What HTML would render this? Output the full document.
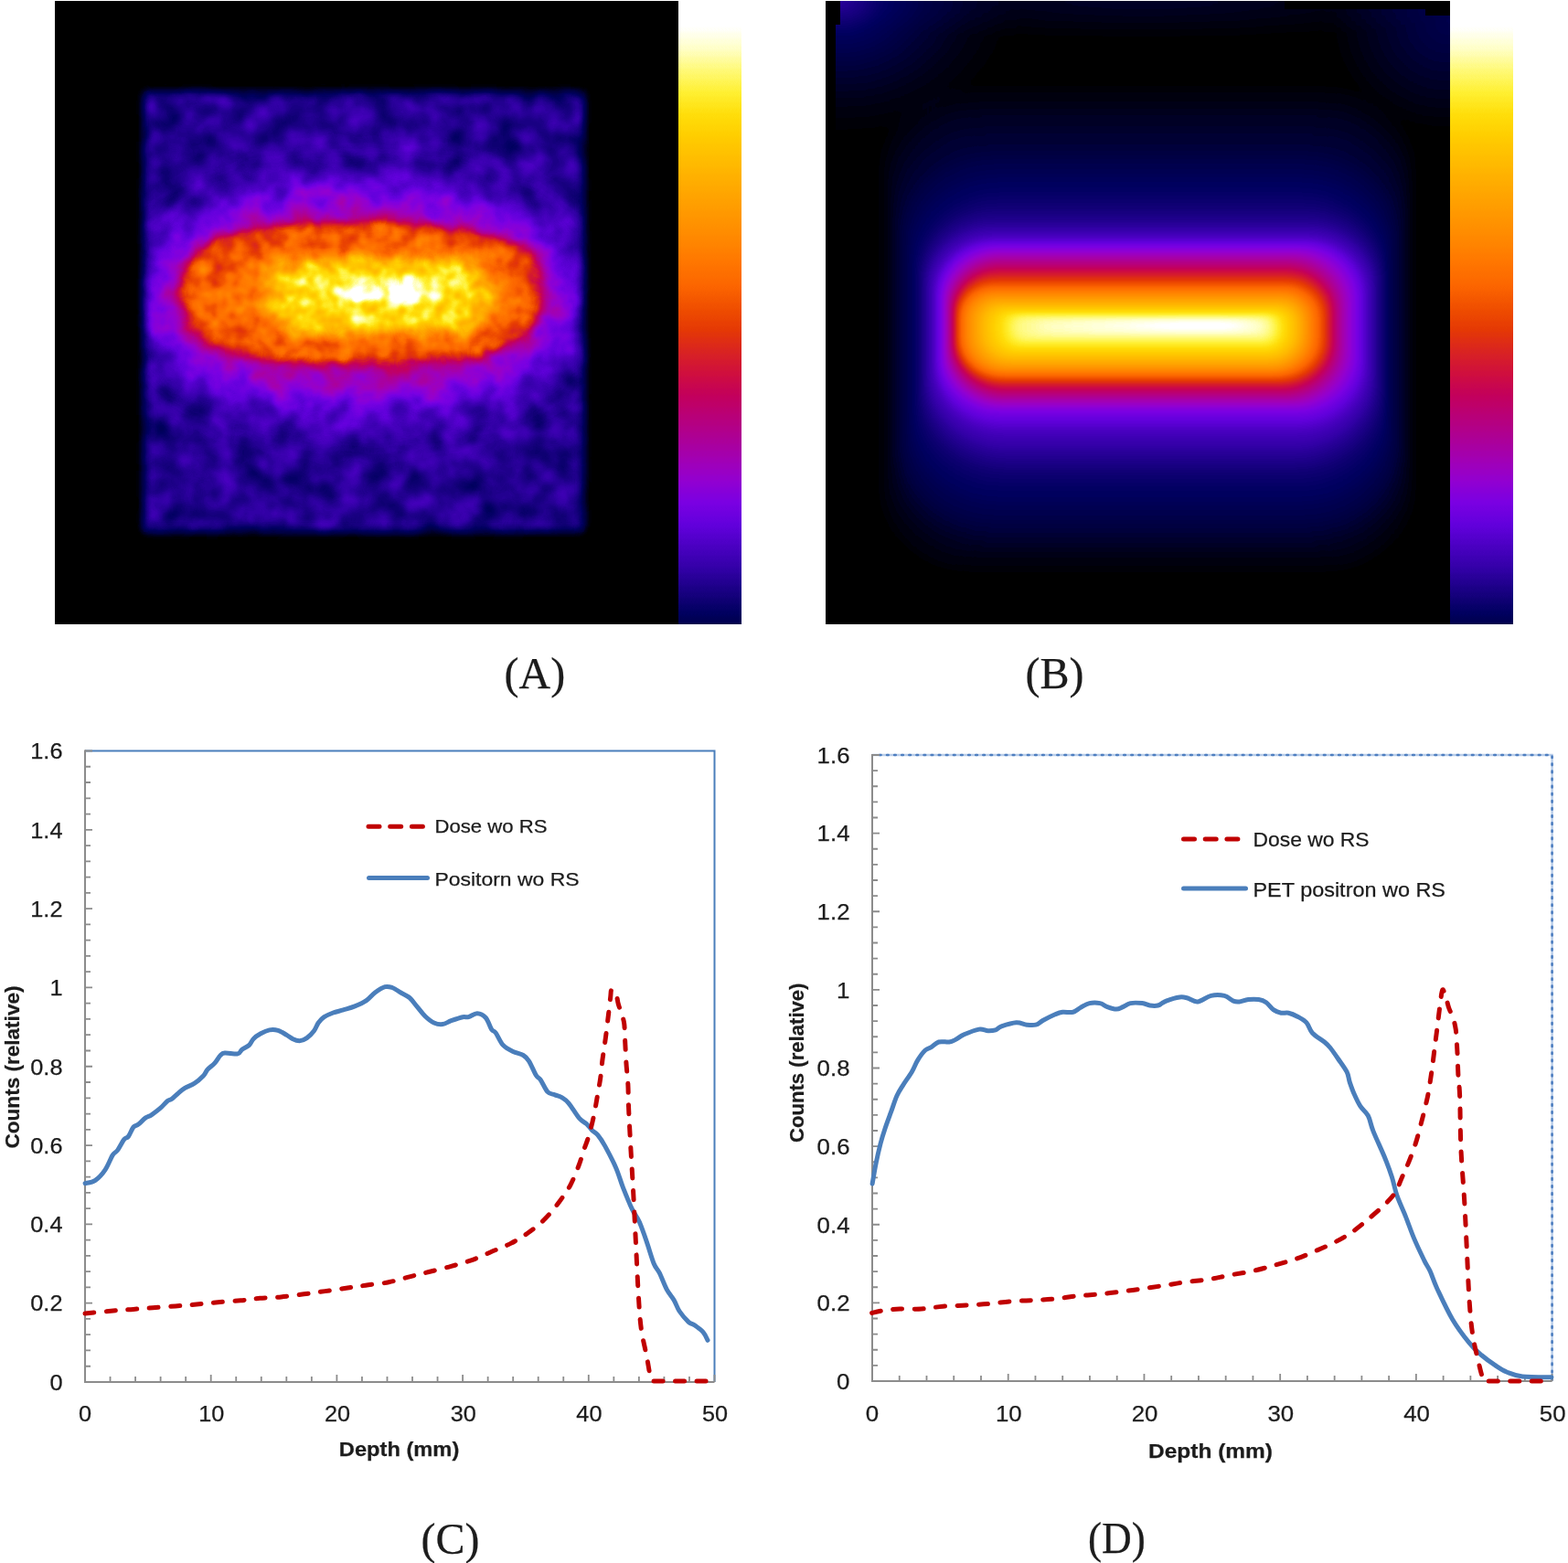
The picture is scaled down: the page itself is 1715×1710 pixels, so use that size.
<!DOCTYPE html>
<html><head><meta charset="utf-8"><title>Figure</title>
<style>
html,body{margin:0;padding:0;background:#fff;}
body{width:1715px;height:1710px;overflow:hidden;}
svg{display:block;}
text{font-family:'Liberation Sans', Arial, sans-serif;fill:#1c1c1c;stroke:#1c1c1c;stroke-width:0.25px;}
</style></head><body>
<svg width="1715" height="1710" viewBox="0 0 1715 1710">
<defs>
<filter id="fireB" filterUnits="userSpaceOnUse" x="903" y="1" width="683" height="682" color-interpolation-filters="sRGB"><feGaussianBlur stdDeviation="4.0"/><feComponentTransfer><feFuncR type="table" tableValues="0.0000 0.0000 0.0039 0.0980 0.1922 0.2863 0.3843 0.4784 0.5725 0.6353 0.6784 0.7216 0.7647 0.8118 0.8510 0.8980 0.9412 0.9882 1.0000 1.0000 1.0000 1.0000 1.0000 1.0000 1.0000 1.0000 1.0000 1.0000 1.0000 1.0000 1.0000 1.0000"/><feFuncG type="table" tableValues="0.0000 0.0000 0.0000 0.0000 0.0000 0.0000 0.0000 0.0000 0.0000 0.0000 0.0000 0.0000 0.0000 0.0549 0.1373 0.2235 0.3098 0.3961 0.4588 0.5216 0.5765 0.6314 0.6863 0.7451 0.8039 0.8706 0.9412 0.9804 1.0000 1.0000 1.0000 1.0000"/><feFuncB type="table" tableValues="0.0000 0.2392 0.3765 0.5098 0.6471 0.7529 0.8627 0.8902 0.8235 0.7098 0.5922 0.4784 0.3647 0.2510 0.1373 0.0196 0.0000 0.0000 0.0000 0.0000 0.0000 0.0000 0.0000 0.0000 0.0000 0.0392 0.1961 0.4706 0.7843 1.0000 1.0000 1.0000"/></feComponentTransfer></filter>
<filter id="fire" filterUnits="objectBoundingBox" x="0" y="0" width="1" height="1" color-interpolation-filters="sRGB"><feComponentTransfer><feFuncR type="table" tableValues="0.0000 0.0000 0.0039 0.0980 0.1922 0.2863 0.3843 0.4784 0.5725 0.6353 0.6784 0.7216 0.7647 0.8118 0.8510 0.8980 0.9412 0.9882 1.0000 1.0000 1.0000 1.0000 1.0000 1.0000 1.0000 1.0000 1.0000 1.0000 1.0000 1.0000 1.0000 1.0000"/><feFuncG type="table" tableValues="0.0000 0.0000 0.0000 0.0000 0.0000 0.0000 0.0000 0.0000 0.0000 0.0000 0.0000 0.0000 0.0000 0.0549 0.1373 0.2235 0.3098 0.3961 0.4588 0.5216 0.5765 0.6314 0.6863 0.7451 0.8039 0.8706 0.9412 0.9804 1.0000 1.0000 1.0000 1.0000"/><feFuncB type="table" tableValues="0.0000 0.2392 0.3765 0.5098 0.6471 0.7529 0.8627 0.8902 0.8235 0.7098 0.5922 0.4784 0.3647 0.2510 0.1373 0.0196 0.0000 0.0000 0.0000 0.0000 0.0000 0.0000 0.0000 0.0000 0.0000 0.0392 0.1961 0.4706 0.7843 1.0000 1.0000 1.0000"/></feComponentTransfer></filter>
<filter id="fireA" filterUnits="userSpaceOnUse" x="60" y="1" width="682" height="682" color-interpolation-filters="sRGB"><feColorMatrix in="SourceGraphic" type="matrix" values="1 0 0 0 0  1 0 0 0 0  1 0 0 0 0  0 0 0 0 1" result="Fr"/><feColorMatrix in="SourceGraphic" type="matrix" values="0 1 0 0 0  0 1 0 0 0  0 1 0 0 0  0 0 0 0 1" result="Fm"/><feTurbulence type="fractalNoise" baseFrequency="0.0300" numOctaves="2" seed="11" result="dn"/><feDisplacementMap in="Fr" in2="dn" scale="12.0" xChannelSelector="R" yChannelSelector="G" result="FrD"/><feComposite in="FrD" in2="Fm" operator="arithmetic" k1="1" k2="0" k3="0.1194" k4="0" result="F"/><feTurbulence type="fractalNoise" baseFrequency="0.0350" numOctaves="2" seed="7" result="n"/><feColorMatrix in="n" type="matrix" values="1 0 0 0 0  1 0 0 0 0  1 0 0 0 0  0 0 0 0 1" result="ng"/><feGaussianBlur in="ng" stdDeviation="3.00" result="nb"/><feComposite in="Fm" in2="nb" operator="arithmetic" k1="0.1700" k2="-0.0850" k3="0" k4="0.5" result="T"/><feComposite in="F" in2="T" operator="arithmetic" k1="0" k2="1" k3="1" k4="-0.504" result="F2"/><feTurbulence type="fractalNoise" baseFrequency="0.07" numOctaves="2" seed="23" result="n2"/><feColorMatrix in="n2" type="matrix" values="1 0 0 0 0  1 0 0 0 0  1 0 0 0 0  0 0 0 0 1" result="n2g"/><feGaussianBlur in="n2g" stdDeviation="1.5" result="n2b"/><feComposite in="F2" in2="n2b" operator="arithmetic" k1="0.350" k2="0.825" k3="0" k4="0" result="F3"/><feComponentTransfer in="F3"><feFuncR type="table" tableValues="0.0000 0.0000 0.0039 0.0980 0.1922 0.2863 0.3843 0.4784 0.5725 0.6353 0.6784 0.7216 0.7647 0.8118 0.8510 0.8980 0.9412 0.9882 1.0000 1.0000 1.0000 1.0000 1.0000 1.0000 1.0000 1.0000 1.0000 1.0000 1.0000 1.0000 1.0000 1.0000"/><feFuncG type="table" tableValues="0.0000 0.0000 0.0000 0.0000 0.0000 0.0000 0.0000 0.0000 0.0000 0.0000 0.0000 0.0000 0.0000 0.0549 0.1373 0.2235 0.3098 0.3961 0.4588 0.5216 0.5765 0.6314 0.6863 0.7451 0.8039 0.8706 0.9412 0.9804 1.0000 1.0000 1.0000 1.0000"/><feFuncB type="table" tableValues="0.0000 0.2392 0.3765 0.5098 0.6471 0.7529 0.8627 0.8902 0.8235 0.7098 0.5922 0.4784 0.3647 0.2510 0.1373 0.0196 0.0000 0.0000 0.0000 0.0000 0.0000 0.0000 0.0000 0.0000 0.0000 0.0392 0.1961 0.4706 0.7843 1.0000 1.0000 1.0000"/></feComponentTransfer></filter>
<linearGradient id="cbg" gradientUnits="userSpaceOnUse" x1="0" y1="0" x2="0" y2="683"><stop offset="0.000" stop-color="#f9f9f9"/><stop offset="0.100" stop-color="#e1e1e1"/><stop offset="0.200" stop-color="#cacaca"/><stop offset="0.300" stop-color="#b2b2b2"/><stop offset="0.400" stop-color="#9a9a9a"/><stop offset="0.500" stop-color="#828282"/><stop offset="0.600" stop-color="#6b6b6b"/><stop offset="0.700" stop-color="#535353"/><stop offset="0.800" stop-color="#3b3b3b"/><stop offset="0.900" stop-color="#242424"/><stop offset="1.000" stop-color="#0c0c0c"/></linearGradient>
<filter id="g1" filterUnits="userSpaceOnUse" x="60" y="1" width="682" height="682" color-interpolation-filters="sRGB"><feGaussianBlur stdDeviation="5.50 5.50"/></filter>
<filter id="g2" filterUnits="userSpaceOnUse" x="60" y="1" width="682" height="682" color-interpolation-filters="sRGB"><feGaussianBlur stdDeviation="25.71 31.18"/></filter>
<filter id="g3" filterUnits="userSpaceOnUse" x="60" y="1" width="682" height="682" color-interpolation-filters="sRGB"><feGaussianBlur stdDeviation="6.00 6.00"/></filter>
<filter id="g4" filterUnits="userSpaceOnUse" x="60" y="1" width="682" height="682" color-interpolation-filters="sRGB"><feGaussianBlur stdDeviation="14.07 6.93"/></filter>
<filter id="g5" filterUnits="userSpaceOnUse" x="60" y="1" width="682" height="682" color-interpolation-filters="sRGB"><feGaussianBlur stdDeviation="32.59 7.08"/></filter>
<clipPath id="clipB"><rect x="903" y="1" width="683" height="682"/></clipPath>
<radialGradient id="rgTL" cx="0.5" cy="0.5" r="0.5"><stop offset="0.00" stop-color="#1f1f1f"/><stop offset="0.25" stop-color="#101010"/><stop offset="0.50" stop-color="#080808"/><stop offset="0.75" stop-color="#030303"/><stop offset="1.00" stop-color="#000000"/></radialGradient>
<radialGradient id="rgTop" cx="0.5" cy="0.5" r="0.5"><stop offset="0.00" stop-color="#060606"/><stop offset="0.50" stop-color="#030303"/><stop offset="1.00" stop-color="#000000"/></radialGradient>
<radialGradient id="rgTR" cx="0.5" cy="0.5" r="0.5"><stop offset="0.00" stop-color="#0c0c0c"/><stop offset="0.50" stop-color="#060606"/><stop offset="1.00" stop-color="#000000"/></radialGradient>
</defs>
<rect width="1715" height="1710" fill="#fff"/>
<rect x="60" y="1" width="682" height="682" fill="#000"/>
<g filter="url(#fireA)">
<rect x="60" y="1" width="682" height="682" fill="#000"/>
<rect x="158" y="101" width="480" height="480" fill="rgb(0,255,0)" filter="url(#g1)" style="mix-blend-mode:plus-lighter"/>
<ellipse cx="394.6" cy="326.2" rx="234.2" ry="113.6" fill="rgb(59,0,0)" filter="url(#g2)" style="mix-blend-mode:plus-lighter"/>
<path d="M590.7,320.3 L590.4,332.7 L589.6,339.9 L588.2,345.9 L586.3,351.3 L583.7,356.1 L580.7,360.5 L577.0,364.6 L572.9,368.3 L568.1,371.8 L562.8,375.1 L556.9,378.1 L550.4,380.8 L543.3,383.3 L535.7,385.6 L527.4,387.7 L518.4,389.6 L508.8,391.2 L498.3,392.6 L487.0,393.8 L474.7,394.8 L461.1,395.6 L445.6,396.1 L427.0,396.4 L395.3,396.6 L363.6,396.4 L345.1,396.1 L329.6,395.6 L316.0,394.8 L303.6,393.8 L292.3,392.6 L281.9,391.2 L272.2,389.6 L263.3,387.7 L255.0,385.6 L247.3,383.3 L240.2,380.8 L233.8,378.1 L227.9,375.1 L222.6,371.8 L217.8,368.3 L213.6,364.6 L210.0,360.5 L206.9,356.1 L204.4,351.3 L202.4,345.9 L201.1,339.9 L200.2,332.7 L199.9,320.3 L200.2,307.9 L201.1,300.7 L202.4,294.6 L204.4,289.3 L206.9,284.5 L210.0,280.1 L213.6,276.0 L217.8,272.2 L222.6,268.7 L227.9,265.5 L233.8,262.5 L240.2,259.7 L247.3,257.2 L255.0,254.9 L263.3,252.8 L272.2,251.0 L281.9,249.3 L292.3,247.9 L303.6,246.7 L316.0,245.7 L329.6,245.0 L345.1,244.4 L363.6,244.1 L395.3,244.0 L427.0,244.1 L445.6,244.4 L461.1,245.0 L474.7,245.7 L487.0,246.7 L498.3,247.9 L508.8,249.3 L518.4,251.0 L527.4,252.8 L535.7,254.9 L543.3,257.2 L550.4,259.7 L556.9,262.5 L562.8,265.5 L568.1,268.7 L572.9,272.2 L577.0,276.0 L580.7,280.1 L583.7,284.5 L586.3,289.3 L588.2,294.6 L589.6,300.7 L590.4,307.9Z" fill="rgb(54,0,0)" filter="url(#g3)" style="mix-blend-mode:plus-lighter"/>
<rect x="289.9" y="282.0" width="249.7" height="82.0" rx="41.0" fill="rgb(62,0,0)" filter="url(#g4)" style="mix-blend-mode:plus-lighter"/>
<ellipse cx="422.4" cy="319.8" rx="42.5" ry="10.9" fill="rgb(71,0,0)" filter="url(#g5)" style="mix-blend-mode:plus-lighter"/>
</g>
<rect x="903" y="1" width="683" height="682" fill="#000"/>
<g clip-path="url(#clipB)"><g filter="url(#fireB)">
<rect x="903" y="1" width="683" height="682" fill="#000"/>
<path d="M1060.7,95.0 H1449.3 A98.7,89.7 0 0 1 1548.0,184.7 V535.3 A98.7,89.7 0 0 1 1449.3,625.0 H1060.7 A98.7,89.7 0 0 1 962.0,535.3 V184.7 A98.7,89.7 0 0 1 1060.7,95.0Z" fill="#010101"/>
<path d="M1062.4,98.9 H1448.2 A98.6,89.6 0 0 1 1546.7,188.5 V532.0 A98.6,89.6 0 0 1 1448.2,621.6 H1062.4 A98.6,89.6 0 0 1 963.9,532.0 V188.5 A98.6,89.6 0 0 1 1062.4,98.9Z" fill="#020202"/>
<path d="M1064.2,102.7 H1447.0 A98.5,89.5 0 0 1 1545.4,192.2 V528.6 A98.5,89.5 0 0 1 1447.0,618.1 H1064.2 A98.5,89.5 0 0 1 965.7,528.6 V192.2 A98.5,89.5 0 0 1 1064.2,102.7Z" fill="#020202"/>
<path d="M1065.9,106.6 H1445.8 A98.3,89.4 0 0 1 1544.1,196.0 V525.3 A98.3,89.4 0 0 1 1445.8,614.7 H1065.9 A98.3,89.4 0 0 1 967.6,525.3 V196.0 A98.3,89.4 0 0 1 1065.9,106.6Z" fill="#020202"/>
<path d="M1067.7,110.4 H1444.6 A98.2,89.3 0 0 1 1542.9,199.7 V522.0 A98.2,89.3 0 0 1 1444.6,611.3 H1067.7 A98.2,89.3 0 0 1 969.4,522.0 V199.7 A98.2,89.3 0 0 1 1067.7,110.4Z" fill="#030303"/>
<path d="M1069.4,114.3 H1443.5 A98.1,89.2 0 0 1 1541.6,203.5 V518.7 A98.1,89.2 0 0 1 1443.5,607.9 H1069.4 A98.1,89.2 0 0 1 971.3,518.7 V203.5 A98.1,89.2 0 0 1 1069.4,114.3Z" fill="#030303"/>
<path d="M1071.2,118.1 H1442.3 A98.0,89.1 0 0 1 1540.3,207.2 V515.3 A98.0,89.1 0 0 1 1442.3,604.4 H1071.2 A98.0,89.1 0 0 1 973.1,515.3 V207.2 A98.0,89.1 0 0 1 1071.2,118.1Z" fill="#040404"/>
<path d="M1072.9,122.0 H1441.1 A97.9,89.0 0 0 1 1539.0,211.0 V512.0 A97.9,89.0 0 0 1 1441.1,601.0 H1072.9 A97.9,89.0 0 0 1 975.0,512.0 V211.0 A97.9,89.0 0 0 1 1072.9,122.0Z" fill="#040404"/>
<path d="M1073.8,126.0 H1440.2 A97.8,88.9 0 0 1 1538.0,214.9 V510.1 A97.8,88.9 0 0 1 1440.2,599.0 H1073.8 A97.8,88.9 0 0 1 976.0,510.1 V214.9 A97.8,88.9 0 0 1 1073.8,126.0Z" fill="#050505"/>
<path d="M1074.7,130.0 H1439.3 A97.7,88.8 0 0 1 1537.0,218.8 V508.2 A97.7,88.8 0 0 1 1439.3,597.0 H1074.7 A97.7,88.8 0 0 1 977.0,508.2 V218.8 A97.7,88.8 0 0 1 1074.7,130.0Z" fill="#050505"/>
<path d="M1075.6,134.0 H1438.4 A97.6,88.7 0 0 1 1536.0,222.7 V506.3 A97.6,88.7 0 0 1 1438.4,595.0 H1075.6 A97.6,88.7 0 0 1 978.0,506.3 V222.7 A97.6,88.7 0 0 1 1075.6,134.0Z" fill="#050505"/>
<path d="M1076.5,138.0 H1437.5 A97.5,88.6 0 0 1 1535.0,226.6 V504.4 A97.5,88.6 0 0 1 1437.5,593.0 H1076.5 A97.5,88.6 0 0 1 979.0,504.4 V226.6 A97.5,88.6 0 0 1 1076.5,138.0Z" fill="#060606"/>
<path d="M1077.3,142.0 H1436.7 A97.4,88.5 0 0 1 1534.0,230.5 V502.5 A97.4,88.5 0 0 1 1436.7,591.0 H1077.3 A97.4,88.5 0 0 1 980.0,502.5 V230.5 A97.4,88.5 0 0 1 1077.3,142.0Z" fill="#060606"/>
<path d="M1078.2,146.0 H1435.8 A97.2,88.4 0 0 1 1533.0,234.4 V500.6 A97.2,88.4 0 0 1 1435.8,589.0 H1078.2 A97.2,88.4 0 0 1 981.0,500.6 V234.4 A97.2,88.4 0 0 1 1078.2,146.0Z" fill="#070707"/>
<path d="M1079.1,150.0 H1434.9 A97.1,88.3 0 0 1 1532.0,238.3 V498.7 A97.1,88.3 0 0 1 1434.9,587.0 H1079.1 A97.1,88.3 0 0 1 982.0,498.7 V238.3 A97.1,88.3 0 0 1 1079.1,150.0Z" fill="#070707"/>
<path d="M1080.0,154.0 H1434.0 A97.0,88.2 0 0 1 1531.0,242.2 V496.8 A97.0,88.2 0 0 1 1434.0,585.0 H1080.0 A97.0,88.2 0 0 1 983.0,496.8 V242.2 A97.0,88.2 0 0 1 1080.0,154.0Z" fill="#070707"/>
<path d="M1080.9,158.0 H1433.1 A96.9,88.1 0 0 1 1530.0,246.1 V494.9 A96.9,88.1 0 0 1 1433.1,583.0 H1080.9 A96.9,88.1 0 0 1 984.0,494.9 V246.1 A96.9,88.1 0 0 1 1080.9,158.0Z" fill="#080808"/>
<path d="M1081.8,162.0 H1432.2 A96.8,88.0 0 0 1 1529.0,250.0 V493.0 A96.8,88.0 0 0 1 1432.2,581.0 H1081.8 A96.8,88.0 0 0 1 985.0,493.0 V250.0 A96.8,88.0 0 0 1 1081.8,162.0Z" fill="#080808"/>
<path d="M1083.0,166.0 H1431.0 A96.6,87.8 0 0 1 1527.6,253.8 V489.2 A96.6,87.8 0 0 1 1431.0,577.0 H1083.0 A96.6,87.8 0 0 1 986.4,489.2 V253.8 A96.6,87.8 0 0 1 1083.0,166.0Z" fill="#090909"/>
<path d="M1084.2,170.0 H1429.8 A96.4,87.6 0 0 1 1526.2,257.6 V485.4 A96.4,87.6 0 0 1 1429.8,573.0 H1084.2 A96.4,87.6 0 0 1 987.8,485.4 V257.6 A96.4,87.6 0 0 1 1084.2,170.0Z" fill="#0a0a0a"/>
<path d="M1085.3,174.0 H1428.7 A96.1,87.4 0 0 1 1524.8,261.4 V481.6 A96.1,87.4 0 0 1 1428.7,569.0 H1085.3 A96.1,87.4 0 0 1 989.2,481.6 V261.4 A96.1,87.4 0 0 1 1085.3,174.0Z" fill="#0b0b0b"/>
<path d="M1086.5,178.0 H1427.5 A95.9,87.2 0 0 1 1523.4,265.2 V477.8 A95.9,87.2 0 0 1 1427.5,565.0 H1086.5 A95.9,87.2 0 0 1 990.6,477.8 V265.2 A95.9,87.2 0 0 1 1086.5,178.0Z" fill="#0c0c0c"/>
<path d="M1087.7,182.0 H1426.3 A95.7,87.0 0 0 1 1522.0,269.0 V474.0 A95.7,87.0 0 0 1 1426.3,561.0 H1087.7 A95.7,87.0 0 0 1 992.0,474.0 V269.0 A95.7,87.0 0 0 1 1087.7,182.0Z" fill="#0c0c0c"/>
<path d="M1088.7,186.0 H1425.7 A95.5,86.8 0 0 1 1521.2,272.8 V470.2 A95.5,86.8 0 0 1 1425.7,557.0 H1088.7 A95.5,86.8 0 0 1 993.2,470.2 V272.8 A95.5,86.8 0 0 1 1088.7,186.0Z" fill="#0d0d0d"/>
<path d="M1089.7,190.0 H1425.1 A95.3,86.6 0 0 1 1520.4,276.6 V466.4 A95.3,86.6 0 0 1 1425.1,553.0 H1089.7 A95.3,86.6 0 0 1 994.4,466.4 V276.6 A95.3,86.6 0 0 1 1089.7,190.0Z" fill="#0e0e0e"/>
<path d="M1090.6,194.0 H1424.6 A95.0,86.4 0 0 1 1519.6,280.4 V462.6 A95.0,86.4 0 0 1 1424.6,549.0 H1090.6 A95.0,86.4 0 0 1 995.6,462.6 V280.4 A95.0,86.4 0 0 1 1090.6,194.0Z" fill="#0f0f0f"/>
<path d="M1091.6,198.0 H1424.0 A94.8,86.2 0 0 1 1518.8,284.2 V458.8 A94.8,86.2 0 0 1 1424.0,545.0 H1091.6 A94.8,86.2 0 0 1 996.8,458.8 V284.2 A94.8,86.2 0 0 1 1091.6,198.0Z" fill="#101010"/>
<path d="M1092.6,202.0 H1423.4 A94.6,86.0 0 0 1 1518.0,288.0 V455.0 A94.6,86.0 0 0 1 1423.4,541.0 H1092.6 A94.6,86.0 0 0 1 998.0,455.0 V288.0 A94.6,86.0 0 0 1 1092.6,202.0Z" fill="#101010"/>
<path d="M1093.8,206.0 H1422.6 A94.4,85.8 0 0 1 1517.0,291.8 V451.0 A94.4,85.8 0 0 1 1422.6,536.8 H1093.8 A94.4,85.8 0 0 1 999.4,451.0 V291.8 A94.4,85.8 0 0 1 1093.8,206.0Z" fill="#111111"/>
<path d="M1093.3,210.0 H1423.5 A92.5,84.1 0 0 1 1516.0,294.1 V447.0 A94.2,85.6 0 0 1 1421.8,532.6 H1095.0 A94.2,85.6 0 0 1 1000.8,447.0 V294.1 A92.5,84.1 0 0 1 1093.3,210.0Z" fill="#121212"/>
<path d="M1092.3,214.0 H1424.9 A90.1,81.9 0 0 1 1515.0,295.9 V443.0 A93.9,85.4 0 0 1 1421.1,528.4 H1096.1 A93.9,85.4 0 0 1 1002.2,443.0 V295.9 A90.1,81.9 0 0 1 1092.3,214.0Z" fill="#131313"/>
<path d="M1091.4,218.0 H1426.2 A87.8,79.8 0 0 1 1514.0,297.8 V439.0 A93.7,85.2 0 0 1 1420.3,524.2 H1097.3 A93.7,85.2 0 0 1 1003.6,439.0 V297.8 A87.8,79.8 0 0 1 1091.4,218.0Z" fill="#141414"/>
<path d="M1090.4,222.0 H1427.6 A85.4,77.6 0 0 1 1513.0,299.6 V435.0 A93.5,85.0 0 0 1 1419.5,520.0 H1098.5 A93.5,85.0 0 0 1 1005.0,435.0 V299.6 A85.4,77.6 0 0 1 1090.4,222.0Z" fill="#151515"/>
<path d="M1089.5,225.2 H1428.3 A83.6,76.0 0 0 1 1512.0,301.2 V432.3 A93.2,84.7 0 0 1 1418.8,517.0 H1099.1 A93.2,84.7 0 0 1 1005.9,432.3 V301.2 A83.6,76.0 0 0 1 1089.5,225.2Z" fill="#161616"/>
<path d="M1088.6,228.3 H1429.1 A81.8,74.4 0 0 1 1510.9,302.7 V429.6 A92.8,84.4 0 0 1 1418.1,514.0 H1099.6 A92.8,84.4 0 0 1 1006.8,429.6 V302.7 A81.8,74.4 0 0 1 1088.6,228.3Z" fill="#171717"/>
<path d="M1087.7,231.5 H1429.8 A80.0,72.8 0 0 1 1509.8,304.2 V426.9 A92.5,84.1 0 0 1 1417.3,511.0 H1100.2 A92.5,84.1 0 0 1 1007.7,426.9 V304.2 A80.0,72.8 0 0 1 1087.7,231.5Z" fill="#181818"/>
<path d="M1086.8,234.6 H1430.6 A78.2,71.1 0 0 1 1508.8,305.7 V424.2 A92.2,83.8 0 0 1 1416.6,508.0 H1100.8 A92.2,83.8 0 0 1 1008.6,424.2 V305.7 A78.2,71.1 0 0 1 1086.8,234.6Z" fill="#1a1a1a"/>
<path d="M1085.9,237.8 H1431.3 A76.4,69.5 0 0 1 1507.8,307.2 V421.5 A91.9,83.5 0 0 1 1415.9,505.0 H1101.3 A91.9,83.5 0 0 1 1009.5,421.5 V307.2 A76.4,69.5 0 0 1 1085.9,237.8Z" fill="#1b1b1b"/>
<path d="M1085.0,240.9 H1432.1 A74.6,67.8 0 0 1 1506.7,308.7 V418.8 A91.5,83.2 0 0 1 1415.2,502.0 H1101.9 A91.5,83.2 0 0 1 1010.4,418.8 V308.7 A74.6,67.8 0 0 1 1085.0,240.9Z" fill="#1c1c1c"/>
<path d="M1084.5,244.1 H1432.5 A72.8,66.2 0 0 1 1505.3,310.2 V415.5 A91.0,82.7 0 0 1 1414.3,498.2 H1102.7 A91.0,82.7 0 0 1 1011.7,415.5 V310.2 A72.8,66.2 0 0 1 1084.5,244.1Z" fill="#1e1e1e"/>
<path d="M1084.7,246.2 H1432.3 A71.7,65.2 0 0 1 1504.0,311.4 V413.7 A89.0,80.9 0 0 1 1415.0,494.6 H1102.0 A89.0,80.9 0 0 1 1013.0,413.7 V311.4 A71.7,65.2 0 0 1 1084.7,246.2Z" fill="#1f1f1f"/>
<path d="M1084.9,248.3 H1432.1 A70.5,64.1 0 0 1 1502.7,312.4 V411.9 A87.0,79.1 0 0 1 1415.7,491.0 H1101.3 A87.0,79.1 0 0 1 1014.3,411.9 V312.4 A70.5,64.1 0 0 1 1084.9,248.3Z" fill="#212121"/>
<path d="M1085.0,250.5 H1432.0 A69.4,63.1 0 0 1 1501.3,313.5 V410.2 A84.9,77.2 0 0 1 1416.4,487.4 H1100.6 A84.9,77.2 0 0 1 1015.7,410.2 V313.5 A69.4,63.1 0 0 1 1085.0,250.5Z" fill="#232323"/>
<path d="M1085.2,252.6 H1431.8 A68.2,62.0 0 0 1 1500.0,314.6 V408.5 A82.9,75.3 0 0 1 1417.1,483.8 H1099.9 A82.9,75.3 0 0 1 1017.0,408.5 V314.6 A68.2,62.0 0 0 1 1085.2,252.6Z" fill="#242424"/>
<path d="M1085.4,254.7 H1431.6 A67.0,61.0 0 0 1 1498.7,315.7 V406.8 A80.8,73.4 0 0 1 1417.9,480.2 H1099.1 A80.8,73.4 0 0 1 1018.3,406.8 V315.7 A67.0,61.0 0 0 1 1085.4,254.7Z" fill="#262626"/>
<path d="M1085.5,256.9 H1431.5 A65.9,59.9 0 0 1 1497.3,316.7 V405.1 A78.7,71.5 0 0 1 1418.7,476.6 H1098.3 A78.7,71.5 0 0 1 1019.7,405.1 V316.7 A65.9,59.9 0 0 1 1085.5,256.9Z" fill="#272727"/>
<path d="M1085.7,259.0 H1431.3 A64.7,58.8 0 0 1 1496.0,317.8 V403.4 A76.6,69.6 0 0 1 1419.4,473.0 H1097.6 A76.6,69.6 0 0 1 1021.0,403.4 V317.8 A64.7,58.8 0 0 1 1085.7,259.0Z" fill="#292929"/>
<path d="M1086.4,260.5 H1430.0 A64.4,58.5 0 0 1 1494.3,319.0 V401.4 A75.2,68.3 0 0 1 1419.2,469.7 H1097.2 A75.2,68.3 0 0 1 1022.0,401.4 V319.0 A64.4,58.5 0 0 1 1086.4,260.5Z" fill="#2c2c2c"/>
<path d="M1087.1,262.0 H1428.7 A64.0,58.2 0 0 1 1492.7,320.2 V399.4 A73.8,67.0 0 0 1 1418.9,466.4 H1096.9 A73.8,67.0 0 0 1 1023.1,399.4 V320.2 A64.0,58.2 0 0 1 1087.1,262.0Z" fill="#2e2e2e"/>
<path d="M1087.8,263.5 H1427.4 A63.7,57.9 0 0 1 1491.0,321.4 V397.4 A72.3,65.7 0 0 1 1418.8,463.1 H1096.4 A72.3,65.7 0 0 1 1024.2,397.4 V321.4 A63.7,57.9 0 0 1 1087.8,263.5Z" fill="#313131"/>
<path d="M1088.5,265.0 H1426.1 A63.3,57.6 0 0 1 1489.4,322.6 V395.5 A70.8,64.3 0 0 1 1418.6,459.8 H1096.0 A70.8,64.3 0 0 1 1025.2,395.5 V322.6 A63.3,57.6 0 0 1 1088.5,265.0Z" fill="#333333"/>
<path d="M1089.2,266.5 H1424.8 A62.9,57.2 0 0 1 1487.8,323.7 V393.6 A69.2,62.9 0 0 1 1418.6,456.5 H1095.4 A69.2,62.9 0 0 1 1026.2,393.6 V323.7 A62.9,57.2 0 0 1 1089.2,266.5Z" fill="#353535"/>
<path d="M1089.8,268.0 H1423.6 A62.5,56.8 0 0 1 1486.1,324.8 V391.8 A67.6,61.4 0 0 1 1418.5,453.2 H1094.9 A67.6,61.4 0 0 1 1027.3,391.8 V324.8 A62.5,56.8 0 0 1 1089.8,268.0Z" fill="#383838"/>
<path d="M1090.6,269.8 H1421.9 A62.0,56.4 0 0 1 1484.0,326.1 V390.0 A66.2,60.2 0 0 1 1417.7,450.2 H1094.8 A66.2,60.2 0 0 1 1028.6,390.0 V326.1 A62.0,56.4 0 0 1 1090.6,269.8Z" fill="#3b3b3b"/>
<path d="M1091.7,272.0 H1419.5 A61.3,55.7 0 0 1 1480.8,327.7 V388.2 A65.4,59.5 0 0 1 1415.4,447.7 H1095.8 A65.4,59.5 0 0 1 1030.4,388.2 V327.7 A61.3,55.7 0 0 1 1091.7,272.0Z" fill="#3f3f3f"/>
<path d="M1092.8,274.2 H1417.1 A60.6,55.1 0 0 1 1477.7,329.3 V386.5 A64.6,58.7 0 0 1 1413.1,445.2 H1096.8 A64.6,58.7 0 0 1 1032.2,386.5 V329.3 A60.6,55.1 0 0 1 1092.8,274.2Z" fill="#424242"/>
<path d="M1093.8,276.5 H1414.7 A59.8,54.3 0 0 1 1474.5,330.8 V384.9 A63.7,57.9 0 0 1 1410.8,442.8 H1097.7 A63.7,57.9 0 0 1 1034.0,384.9 V330.8 A59.8,54.3 0 0 1 1093.8,276.5Z" fill="#464646"/>
<path d="M1094.7,278.8 H1412.4 A58.9,53.6 0 0 1 1471.3,332.3 V383.3 A62.7,57.0 0 0 1 1408.6,440.3 H1098.5 A62.7,57.0 0 0 1 1035.8,383.3 V332.3 A58.9,53.6 0 0 1 1094.7,278.8Z" fill="#4a4a4a"/>
<path d="M1095.0,281.0 H1410.9 A58.1,52.8 0 0 1 1469.0,333.9 V381.7 A62.1,56.5 0 0 1 1406.9,438.2 H1099.0 A62.1,56.5 0 0 1 1036.9,381.7 V333.9 A58.1,52.8 0 0 1 1095.0,281.0Z" fill="#4e4e4e"/>
<path d="M1095.2,283.3 H1409.5 A57.3,52.1 0 0 1 1466.7,335.3 V380.3 A61.5,55.9 0 0 1 1405.2,436.2 H1099.4 A61.5,55.9 0 0 1 1037.9,380.3 V335.3 A57.3,52.1 0 0 1 1095.2,283.3Z" fill="#525252"/>
<path d="M1095.3,285.5 H1408.1 A56.4,51.2 0 0 1 1464.5,336.8 V378.9 A60.9,55.3 0 0 1 1403.6,434.2 H1099.8 A60.9,55.3 0 0 1 1038.9,378.9 V336.8 A56.4,51.2 0 0 1 1095.3,285.5Z" fill="#565656"/>
<path d="M1095.3,287.8 H1406.8 A55.4,50.4 0 0 1 1462.2,338.1 V377.5 A60.2,54.7 0 0 1 1402.0,432.2 H1100.1 A60.2,54.7 0 0 1 1039.9,377.5 V338.1 A55.4,50.4 0 0 1 1095.3,287.8Z" fill="#5a5a5a"/>
<path d="M1095.2,289.8 H1406.3 A54.6,49.6 0 0 1 1460.9,339.4 V376.2 A59.4,54.0 0 0 1 1401.4,430.2 H1100.1 A59.4,54.0 0 0 1 1040.7,376.2 V339.4 A54.6,49.6 0 0 1 1095.2,289.8Z" fill="#5e5e5e"/>
<path d="M1095.1,291.8 H1405.9 A53.7,48.8 0 0 1 1459.6,340.6 V374.9 A58.7,53.3 0 0 1 1401.0,428.2 H1100.1 A58.7,53.3 0 0 1 1041.4,374.9 V340.6 A53.7,48.8 0 0 1 1095.1,291.8Z" fill="#626262"/>
<path d="M1094.4,293.8 H1406.1 A52.2,47.5 0 0 1 1458.4,341.3 V374.2 A57.2,52.0 0 0 1 1401.2,426.2 H1099.4 A57.2,52.0 0 0 1 1042.2,374.2 V341.3 A52.2,47.5 0 0 1 1094.4,293.8Z" fill="#666666"/>
<path d="M1093.6,295.8 H1406.5 A50.7,46.1 0 0 1 1457.1,341.9 V373.6 A55.6,50.6 0 0 1 1401.5,424.2 H1098.6 A55.6,50.6 0 0 1 1042.9,373.6 V341.9 A50.7,46.1 0 0 1 1093.6,295.8Z" fill="#6b6b6b"/>
<path d="M1092.4,298.2 H1406.7 A48.7,44.3 0 0 1 1455.4,342.5 V373.1 A54.3,49.3 0 0 1 1401.2,422.4 H1097.9 A54.3,49.3 0 0 1 1043.7,373.1 V342.5 A48.7,44.3 0 0 1 1092.4,298.2Z" fill="#6f6f6f"/>
<path d="M1091.2,300.8 H1406.9 A46.7,42.5 0 0 1 1453.7,343.2 V372.6 A52.9,48.1 0 0 1 1400.8,420.7 H1097.3 A52.9,48.1 0 0 1 1044.4,372.6 V343.2 A46.7,42.5 0 0 1 1091.2,300.8Z" fill="#737373"/>
<path d="M1089.9,303.2 H1407.2 A44.7,40.7 0 0 1 1451.9,343.9 V372.1 A51.6,46.9 0 0 1 1400.4,418.9 H1096.7 A51.6,46.9 0 0 1 1045.2,372.1 V343.9 A44.7,40.7 0 0 1 1089.9,303.2Z" fill="#777777"/>
<path d="M1088.7,305.8 H1407.4 A42.7,38.9 0 0 1 1450.2,344.6 V371.6 A50.2,45.6 0 0 1 1400.0,417.2 H1096.1 A50.2,45.6 0 0 1 1045.9,371.6 V344.6 A42.7,38.9 0 0 1 1088.7,305.8Z" fill="#7b7b7b"/>
<path d="M1088.2,307.6 H1407.1 A41.3,37.5 0 0 1 1448.4,345.1 V371.1 A49.1,44.6 0 0 1 1399.3,415.8 H1096.0 A49.1,44.6 0 0 1 1046.9,371.1 V345.1 A41.3,37.5 0 0 1 1088.2,307.6Z" fill="#7f7f7f"/>
<path d="M1087.8,309.3 H1406.8 A39.9,36.3 0 0 1 1446.7,345.6 V370.7 A48.0,43.7 0 0 1 1398.6,414.4 H1095.9 A48.0,43.7 0 0 1 1047.9,370.7 V345.6 A39.9,36.3 0 0 1 1087.8,309.3Z" fill="#838383"/>
<path d="M1087.4,311.2 H1406.4 A38.4,34.9 0 0 1 1444.8,346.1 V370.3 A46.9,42.6 0 0 1 1397.9,412.9 H1095.9 A46.9,42.6 0 0 1 1049.0,370.3 V346.1 A38.4,34.9 0 0 1 1087.4,311.2Z" fill="#888888"/>
<path d="M1087.0,313.0 H1406.0 A37.0,33.6 0 0 1 1443.0,346.6 V369.9 A45.8,41.6 0 0 1 1397.2,411.5 H1095.8 A45.8,41.6 0 0 1 1050.0,369.9 V346.6 A37.0,33.6 0 0 1 1087.0,313.0Z" fill="#8c8c8c"/>
<path d="M1087.1,314.8 H1405.2 A35.6,32.3 0 0 1 1440.8,347.1 V369.5 A44.9,40.8 0 0 1 1395.8,410.4 H1096.4 A44.9,40.8 0 0 1 1051.5,369.5 V347.1 A35.6,32.3 0 0 1 1087.1,314.8Z" fill="#909090"/>
<path d="M1087.2,316.5 H1404.3 A34.2,31.0 0 0 1 1438.5,347.6 V369.2 A44.1,40.1 0 0 1 1394.4,409.2 H1097.1 A44.1,40.1 0 0 1 1053.0,369.2 V347.6 A34.2,31.0 0 0 1 1087.2,316.5Z" fill="#949494"/>
<path d="M1087.2,318.2 H1403.5 A32.7,29.8 0 0 1 1436.2,348.0 V368.9 A43.2,39.3 0 0 1 1393.1,408.1 H1097.7 A43.2,39.3 0 0 1 1054.5,368.9 V348.0 A32.7,29.8 0 0 1 1087.2,318.2Z" fill="#989898"/>
<path d="M1087.3,320.0 H1402.7 A31.3,28.5 0 0 1 1434.0,348.5 V368.5 A42.3,38.5 0 0 1 1391.7,407.0 H1098.3 A42.3,38.5 0 0 1 1056.0,368.5 V348.5 A31.3,28.5 0 0 1 1087.3,320.0Z" fill="#9c9c9c"/>
<path d="M1088.4,321.8 H1402.1 A29.9,27.2 0 0 1 1432.0,348.9 V368.1 A40.9,37.2 0 0 1 1391.1,405.2 H1099.4 A40.9,37.2 0 0 1 1058.5,368.1 V348.9 A29.9,27.2 0 0 1 1088.4,321.8Z" fill="#a0a0a0"/>
<path d="M1089.5,323.5 H1401.5 A28.5,25.9 0 0 1 1430.0,349.4 V367.6 A39.5,35.9 0 0 1 1390.5,403.5 H1100.5 A39.5,35.9 0 0 1 1061.0,367.6 V349.4 A28.5,25.9 0 0 1 1089.5,323.5Z" fill="#a5a5a5"/>
<path d="M1090.5,325.2 H1401.0 A27.0,24.6 0 0 1 1428.0,349.8 V367.1 A38.1,34.6 0 0 1 1389.9,401.8 H1101.6 A38.1,34.6 0 0 1 1063.5,367.1 V349.8 A27.0,24.6 0 0 1 1090.5,325.2Z" fill="#a9a9a9"/>
<path d="M1091.6,327.0 H1400.4 A25.6,23.2 0 0 1 1426.0,350.2 V366.7 A36.7,33.3 0 0 1 1389.3,400.0 H1102.7 A36.7,33.3 0 0 1 1066.0,366.7 V350.2 A25.6,23.2 0 0 1 1091.6,327.0Z" fill="#adadad"/>
<path d="M1092.5,328.9 H1400.0 A24.0,21.8 0 0 1 1424.0,350.7 V366.2 A35.0,31.8 0 0 1 1389.0,398.0 H1103.5 A35.0,31.8 0 0 1 1068.5,366.2 V350.7 A24.0,21.8 0 0 1 1092.5,328.9Z" fill="#b1b1b1"/>
<path d="M1093.5,330.8 H1399.5 A22.5,20.4 0 0 1 1422.0,351.2 V365.7 A33.4,30.3 0 0 1 1388.6,396.0 H1104.4 A33.4,30.3 0 0 1 1071.0,365.7 V351.2 A22.5,20.4 0 0 1 1093.5,330.8Z" fill="#b5b5b5"/>
<path d="M1094.4,332.6 H1399.1 A20.9,19.0 0 0 1 1420.0,351.6 V365.2 A31.7,28.8 0 0 1 1388.3,394.0 H1105.2 A31.7,28.8 0 0 1 1073.5,365.2 V351.6 A20.9,19.0 0 0 1 1094.4,332.6Z" fill="#b9b9b9"/>
<path d="M1095.3,334.5 H1398.7 A19.3,17.6 0 0 1 1418.0,352.1 V364.7 A30.1,27.3 0 0 1 1387.9,392.0 H1106.1 A30.1,27.3 0 0 1 1076.0,364.7 V352.1 A19.3,17.6 0 0 1 1095.3,334.5Z" fill="#bdbdbd"/>
<path d="M1097.5,335.9 H1397.3 A18.1,16.5 0 0 1 1415.4,352.4 V364.2 A28.4,25.8 0 0 1 1387.0,390.0 H1107.8 A28.4,25.8 0 0 1 1079.4,364.2 V352.4 A18.1,16.5 0 0 1 1097.5,335.9Z" fill="#c0c0c0"/>
<path d="M1099.8,337.3 H1395.8 A17.0,15.4 0 0 1 1412.8,352.7 V363.7 A26.7,24.3 0 0 1 1386.1,388.0 H1109.5 A26.7,24.3 0 0 1 1082.8,363.7 V352.7 A17.0,15.4 0 0 1 1099.8,337.3Z" fill="#c4c4c4"/>
<path d="M1102.0,338.7 H1394.4 A15.8,14.3 0 0 1 1410.2,353.0 V363.3 A25.0,22.7 0 0 1 1385.2,386.0 H1111.2 A25.0,22.7 0 0 1 1086.2,363.3 V353.0 A15.8,14.3 0 0 1 1102.0,338.7Z" fill="#c7c7c7"/>
<path d="M1104.2,340.1 H1393.0 A14.6,13.3 0 0 1 1407.6,353.4 V362.8 A23.3,21.2 0 0 1 1384.3,384.0 H1112.9 A23.3,21.2 0 0 1 1089.6,362.8 V353.4 A14.6,13.3 0 0 1 1104.2,340.1Z" fill="#cacaca"/>
<path d="M1106.4,341.5 H1391.6 A13.4,12.2 0 0 1 1405.0,353.7 V362.3 A21.6,19.7 0 0 1 1383.4,382.0 H1114.6 A21.6,19.7 0 0 1 1093.0,362.3 V353.7 A13.4,12.2 0 0 1 1106.4,341.5Z" fill="#cecece"/>
<path d="M1109.1,342.3 H1389.7 A12.7,11.6 0 0 1 1402.4,353.9 V361.9 A19.7,17.9 0 0 1 1382.7,379.8 H1116.1 A19.7,17.9 0 0 1 1096.4,361.9 V353.9 A12.7,11.6 0 0 1 1109.1,342.3Z" fill="#d1d1d1"/>
<path d="M1111.9,343.1 H1387.7 A12.1,11.0 0 0 1 1399.8,354.1 V361.4 A17.9,16.2 0 0 1 1381.9,377.6 H1117.7 A17.9,16.2 0 0 1 1099.8,361.4 V354.1 A12.1,11.0 0 0 1 1111.9,343.1Z" fill="#d4d4d4"/>
<path d="M1114.6,343.9 H1385.8 A11.4,10.3 0 0 1 1397.2,354.2 V360.9 A16.0,14.5 0 0 1 1381.2,375.4 H1119.2 A16.0,14.5 0 0 1 1103.2,360.9 V354.2 A11.4,10.3 0 0 1 1114.6,343.9Z" fill="#d8d8d8"/>
<path d="M1117.3,344.7 H1383.9 A10.7,9.7 0 0 1 1394.6,354.4 V360.4 A14.1,12.8 0 0 1 1380.5,373.2 H1120.7 A14.1,12.8 0 0 1 1106.6,360.4 V354.4 A10.7,9.7 0 0 1 1117.3,344.7Z" fill="#dbdbdb"/>
<path d="M1120.0,345.5 H1382.0 A10.0,9.1 0 0 1 1392.0,354.6 V359.9 A12.2,11.1 0 0 1 1379.8,371.0 H1122.2 A12.2,11.1 0 0 1 1110.0,359.9 V354.6 A10.0,9.1 0 0 1 1120.0,345.5Z" fill="#dedede"/>
<path d="M1123.4,345.9 H1381.1 A9.6,8.8 0 0 1 1390.8,354.7 V359.8 A11.5,10.5 0 0 1 1379.2,370.2 H1125.3 A11.5,10.5 0 0 1 1113.8,359.8 V354.7 A9.6,8.8 0 0 1 1123.4,345.9Z" fill="#dfdfdf"/>
<path d="M1126.8,346.4 H1380.2 A9.3,8.4 0 0 1 1389.5,354.8 V359.6 A10.9,9.9 0 0 1 1378.6,369.5 H1128.4 A10.9,9.9 0 0 1 1117.5,359.6 V354.8 A9.3,8.4 0 0 1 1126.8,346.4Z" fill="#e0e0e0"/>
<path d="M1130.1,346.8 H1379.4 A8.9,8.1 0 0 1 1388.2,354.9 V359.4 A10.2,9.3 0 0 1 1378.0,368.7 H1131.5 A10.2,9.3 0 0 1 1121.3,359.4 V354.9 A8.9,8.1 0 0 1 1130.1,346.8Z" fill="#e1e1e1"/>
<path d="M1133.5,347.3 H1378.5 A8.5,7.7 0 0 1 1387.0,355.0 V359.3 A9.6,8.7 0 0 1 1377.4,368.0 H1134.6 A9.6,8.7 0 0 1 1125.0,359.3 V355.0 A8.5,7.7 0 0 1 1133.5,347.3Z" fill="#e1e1e1"/>
<path d="M1136.9,347.7 H1377.6 A8.1,7.4 0 0 1 1385.8,355.1 V359.1 A8.9,8.1 0 0 1 1376.8,367.2 H1137.7 A8.9,8.1 0 0 1 1128.8,359.1 V355.1 A8.1,7.4 0 0 1 1136.9,347.7Z" fill="#e2e2e2"/>
<path d="M1140.2,348.1 H1376.8 A7.7,7.0 0 0 1 1384.5,355.2 V359.0 A8.3,7.5 0 0 1 1376.2,366.5 H1140.8 A8.3,7.5 0 0 1 1132.5,359.0 V355.2 A7.7,7.0 0 0 1 1140.2,348.1Z" fill="#e3e3e3"/>
<path d="M1143.6,348.6 H1375.9 A7.4,6.7 0 0 1 1383.2,355.3 V358.8 A7.6,6.9 0 0 1 1375.6,365.7 H1143.9 A7.6,6.9 0 0 1 1136.3,358.8 V355.3 A7.4,6.7 0 0 1 1143.6,348.6Z" fill="#e4e4e4"/>
<path d="M1147.0,349.0 H1375.0 A7.0,6.4 0 0 1 1382.0,355.4 V358.6 A7.0,6.4 0 0 1 1375.0,365.0 H1147.0 A7.0,6.4 0 0 1 1140.0,358.6 V355.4 A7.0,6.4 0 0 1 1147.0,349.0Z" fill="#e5e5e5"/>
<path d="M1151.4,349.1 H1374.0 A6.9,6.3 0 0 1 1380.9,355.4 V358.6 A6.8,6.2 0 0 1 1374.1,364.8 H1151.3 A6.8,6.2 0 0 1 1144.5,358.6 V355.4 A6.9,6.3 0 0 1 1151.4,349.1Z" fill="#e5e5e5"/>
<path d="M1155.8,349.2 H1373.0 A6.8,6.2 0 0 1 1379.8,355.4 V358.6 A6.6,6.0 0 0 1 1373.2,364.6 H1155.6 A6.6,6.0 0 0 1 1149.0,358.6 V355.4 A6.8,6.2 0 0 1 1155.8,349.2Z" fill="#e6e6e6"/>
<path d="M1160.2,349.4 H1372.0 A6.7,6.1 0 0 1 1378.7,355.4 V358.4 A6.6,6.0 0 0 1 1372.1,364.4 H1160.1 A6.6,6.0 0 0 1 1153.5,358.4 V355.4 A6.7,6.1 0 0 1 1160.2,349.4Z" fill="#e6e6e6"/>
<path d="M1164.6,349.5 H1371.0 A6.6,6.0 0 0 1 1377.6,355.5 V358.2 A6.6,6.0 0 0 1 1371.0,364.2 H1164.6 A6.6,6.0 0 0 1 1158.0,358.2 V355.5 A6.6,6.0 0 0 1 1164.6,349.5Z" fill="#e6e6e6"/>
<path d="M1169.1,349.6 H1369.9 A6.6,6.0 0 0 1 1376.5,355.6 V358.0 A6.6,6.0 0 0 1 1369.9,364.0 H1169.1 A6.6,6.0 0 0 1 1162.5,358.0 V355.6 A6.6,6.0 0 0 1 1169.1,349.6Z" fill="#e7e7e7"/>
<path d="M1173.6,349.8 H1368.8 A6.6,6.0 0 0 1 1375.4,355.8 V357.8 A6.6,6.0 0 0 1 1368.8,363.8 H1173.6 A6.6,6.0 0 0 1 1167.0,357.8 V355.8 A6.6,6.0 0 0 1 1173.6,349.8Z" fill="#e7e7e7"/>
<path d="M1178.1,349.9 H1367.7 A6.6,6.0 0 0 1 1374.3,355.9 V357.6 A6.6,6.0 0 0 1 1367.7,363.6 H1178.1 A6.6,6.0 0 0 1 1171.5,357.6 V355.9 A6.6,6.0 0 0 1 1178.1,349.9Z" fill="#e8e8e8"/>
<path d="M1182.6,350.0 H1366.6 A6.6,6.0 0 0 1 1373.2,356.0 V357.4 A6.6,6.0 0 0 1 1366.6,363.4 H1182.6 A6.6,6.0 0 0 1 1176.0,357.4 V356.0 A6.6,6.0 0 0 1 1182.6,350.0Z" fill="#e8e8e8"/>
<path d="M1187.1,350.1 H1365.5 A6.6,6.0 0 0 1 1372.1,356.1 V357.2 A6.6,6.0 0 0 1 1365.5,363.2 H1187.1 A6.6,6.0 0 0 1 1180.5,357.2 V356.1 A6.6,6.0 0 0 1 1187.1,350.1Z" fill="#e8e8e8"/>
<path d="M1191.6,350.2 H1364.4 A6.6,6.0 0 0 1 1371.0,356.2 V357.0 A6.6,6.0 0 0 1 1364.4,363.0 H1191.6 A6.6,6.0 0 0 1 1185.0,357.0 V356.2 A6.6,6.0 0 0 1 1191.6,350.2Z" fill="#e9e9e9"/>
<path d="M1196.1,350.4 H1363.3 A6.6,6.0 0 0 1 1369.9,356.4 V356.8 A6.6,6.0 0 0 1 1363.3,362.8 H1196.1 A6.6,6.0 0 0 1 1189.5,356.8 V356.4 A6.6,6.0 0 0 1 1196.1,350.4Z" fill="#e9e9e9"/>
<path d="M1200.6,350.5 H1362.2 A6.6,6.0 0 0 1 1368.8,356.5 V356.6 A6.6,6.0 0 0 1 1362.2,362.6 H1200.6 A6.6,6.0 0 0 1 1194.0,356.6 V356.5 A6.6,6.0 0 0 1 1200.6,350.5Z" fill="#eaeaea"/>
<path d="M1205.1,350.6 H1361.1 A6.6,5.9 0 0 1 1367.7,356.5 V356.5 A6.6,5.9 0 0 1 1361.1,362.4 H1205.1 A6.6,5.9 0 0 1 1198.5,356.5 V356.5 A6.6,5.9 0 0 1 1205.1,350.6Z" fill="#eaeaea"/>
<path d="M1209.6,350.8 H1360.0 A6.6,5.7 0 0 1 1366.6,356.5 V356.5 A6.6,5.7 0 0 1 1360.0,362.2 H1209.6 A6.6,5.7 0 0 1 1203.0,356.5 V356.5 A6.6,5.7 0 0 1 1209.6,350.8Z" fill="#eaeaea"/>
<path d="M1214.1,350.9 H1358.9 A6.6,5.6 0 0 1 1365.5,356.4 V356.4 A6.6,5.6 0 0 1 1358.9,362.0 H1214.1 A6.6,5.6 0 0 1 1207.5,356.4 V356.4 A6.6,5.6 0 0 1 1214.1,350.9Z" fill="#ebebeb"/>
<path d="M1218.6,351.0 H1357.8 A6.6,5.4 0 0 1 1364.4,356.4 V356.4 A6.6,5.4 0 0 1 1357.8,361.8 H1218.6 A6.6,5.4 0 0 1 1212.0,356.4 V356.4 A6.6,5.4 0 0 1 1218.6,351.0Z" fill="#ebebeb"/>
<path d="M1223.1,351.1 H1356.7 A6.6,5.2 0 0 1 1363.3,356.4 V356.4 A6.6,5.2 0 0 1 1356.7,361.6 H1223.1 A6.6,5.2 0 0 1 1216.5,356.4 V356.4 A6.6,5.2 0 0 1 1223.1,351.1Z" fill="#ececec"/>
<path d="M1227.6,351.2 H1355.6 A6.6,5.1 0 0 1 1362.2,356.3 V356.3 A6.6,5.1 0 0 1 1355.6,361.4 H1227.6 A6.6,5.1 0 0 1 1221.0,356.3 V356.3 A6.6,5.1 0 0 1 1227.6,351.2Z" fill="#ececec"/>
<path d="M1232.1,351.4 H1354.5 A6.6,4.9 0 0 1 1361.1,356.3 V356.3 A6.6,4.9 0 0 1 1354.5,361.2 H1232.1 A6.6,4.9 0 0 1 1225.5,356.3 V356.3 A6.6,4.9 0 0 1 1232.1,351.4Z" fill="#ececec"/>
<path d="M1236.6,351.5 H1353.4 A6.6,4.8 0 0 1 1360.0,356.2 V356.2 A6.6,4.8 0 0 1 1353.4,361.0 H1236.6 A6.6,4.8 0 0 1 1230.0,356.2 V356.2 A6.6,4.8 0 0 1 1236.6,351.5Z" fill="#ededed"/>
<path d="M1242.1,351.8 H1351.4 A6.6,4.5 0 0 1 1358.0,356.2 V356.2 A6.6,4.5 0 0 1 1351.4,360.7 H1242.1 A6.6,4.5 0 0 1 1235.5,356.2 V356.2 A6.6,4.5 0 0 1 1242.1,351.8Z" fill="#eeeeee"/>
<path d="M1247.6,352.0 H1349.4 A6.6,4.2 0 0 1 1356.0,356.2 V356.2 A6.6,4.2 0 0 1 1349.4,360.4 H1247.6 A6.6,4.2 0 0 1 1241.0,356.2 V356.2 A6.6,4.2 0 0 1 1247.6,352.0Z" fill="#efefef"/>
<path d="M1253.1,352.2 H1347.4 A6.6,3.9 0 0 1 1354.0,356.2 V356.2 A6.6,3.9 0 0 1 1347.4,360.1 H1253.1 A6.6,3.9 0 0 1 1246.5,356.2 V356.2 A6.6,3.9 0 0 1 1253.1,352.2Z" fill="#efefef"/>
<path d="M1258.6,352.5 H1345.4 A6.6,3.6 0 0 1 1352.0,356.1 V356.1 A6.6,3.6 0 0 1 1345.4,359.8 H1258.6 A6.6,3.6 0 0 1 1252.0,356.1 V356.1 A6.6,3.6 0 0 1 1258.6,352.5Z" fill="#f0f0f0"/>
<path d="M1264.1,352.8 H1343.4 A6.6,3.4 0 0 1 1350.0,356.1 V356.1 A6.6,3.4 0 0 1 1343.4,359.5 H1264.1 A6.6,3.4 0 0 1 1257.5,356.1 V356.1 A6.6,3.4 0 0 1 1264.1,352.8Z" fill="#f1f1f1"/>
<path d="M1269.6,353.0 H1341.4 A6.6,3.1 0 0 1 1348.0,356.1 V356.1 A6.6,3.1 0 0 1 1341.4,359.2 H1269.6 A6.6,3.1 0 0 1 1263.0,356.1 V356.1 A6.6,3.1 0 0 1 1269.6,353.0Z" fill="#f2f2f2"/>
<path d="M1275.1,353.2 H1339.4 A6.6,2.8 0 0 1 1346.0,356.1 V356.1 A6.6,2.8 0 0 1 1339.4,358.9 H1275.1 A6.6,2.8 0 0 1 1268.5,356.1 V356.1 A6.6,2.8 0 0 1 1275.1,353.2Z" fill="#f3f3f3"/>
<path d="M1280.6,353.5 H1337.4 A6.6,2.5 0 0 1 1344.0,356.0 V356.0 A6.6,2.5 0 0 1 1337.4,358.6 H1280.6 A6.6,2.5 0 0 1 1274.0,356.0 V356.0 A6.6,2.5 0 0 1 1280.6,353.5Z" fill="#f3f3f3"/>
<path d="M1286.1,353.8 H1335.4 A6.6,2.3 0 0 1 1342.0,356.0 V356.0 A6.6,2.3 0 0 1 1335.4,358.3 H1286.1 A6.6,2.3 0 0 1 1279.5,356.0 V356.0 A6.6,2.3 0 0 1 1286.1,353.8Z" fill="#f4f4f4"/>
<path d="M1291.6,354.0 H1333.4 A6.6,2.0 0 0 1 1340.0,356.0 V356.0 A6.6,2.0 0 0 1 1333.4,358.0 H1291.6 A6.6,2.0 0 0 1 1285.0,356.0 V356.0 A6.6,2.0 0 0 1 1291.6,354.0Z" fill="#f5f5f5"/>
<ellipse cx="918" cy="0" rx="190" ry="150" fill="url(#rgTL)" style="mix-blend-mode:plus-lighter"/>
<ellipse cx="1250" cy="0" rx="380" ry="45" fill="url(#rgTop)" style="mix-blend-mode:plus-lighter"/>
<ellipse cx="1586" cy="25" rx="130" ry="120" fill="url(#rgTR)" style="mix-blend-mode:plus-lighter"/>
</g></g>
<rect x="903" y="1" width="11" height="682" fill="#000"/>
<rect x="914" y="1" width="5" height="26" fill="#000"/>
<rect x="1405" y="1" width="181" height="9" fill="#000"/>
<rect x="1559" y="1" width="27" height="16" fill="#000"/>
<g filter="url(#fire)"><rect x="742" y="0" width="69" height="683" fill="url(#cbg)"/></g>
<g filter="url(#fire)"><rect x="1586" y="0" width="69" height="683" fill="url(#cbg)"/></g>
<text x="551.5" y="753.4" style="font-family:'Liberation Serif', 'Times New Roman', serif" font-size="48">(A)</text>
<text x="1121.5" y="753.0" style="font-family:'Liberation Serif', 'Times New Roman', serif" font-size="48">(B)</text>
<text x="460.5" y="1699.5" style="font-family:'Liberation Serif', 'Times New Roman', serif" font-size="48">(C)</text>
<text x="1190.0" y="1699.0" style="font-family:'Liberation Serif', 'Times New Roman', serif" font-size="48" textLength="62.8" lengthAdjust="spacingAndGlyphs">(D)</text>
<path d="M93.0,821.5 H781.5 V1512.0" fill="none" stroke="#4a7ebb" stroke-width="2"/>
<path d="M93.0,1494.74h6M93.0,1477.47h6M93.0,1460.21h6M93.0,1442.95h6M93.0,1425.69h8M93.0,1408.42h6M93.0,1391.16h6M93.0,1373.90h6M93.0,1356.64h6M93.0,1339.38h8M93.0,1322.11h6M93.0,1304.85h6M93.0,1287.59h6M93.0,1270.33h6M93.0,1253.06h8M93.0,1235.80h6M93.0,1218.54h6M93.0,1201.28h6M93.0,1184.01h6M93.0,1166.75h8M93.0,1149.49h6M93.0,1132.22h6M93.0,1114.96h6M93.0,1097.70h6M93.0,1080.44h8M93.0,1063.17h6M93.0,1045.91h6M93.0,1028.65h6M93.0,1011.39h6M93.0,994.12h8M93.0,976.86h6M93.0,959.60h6M93.0,942.34h6M93.0,925.07h6M93.0,907.81h8M93.0,890.55h6M93.0,873.29h6M93.0,856.02h6M93.0,838.76h6M93.0,821.50h8M120.54,1512.0v-6M148.08,1512.0v-6M175.62,1512.0v-6M203.16,1512.0v-6M230.70,1512.0v-8M258.24,1512.0v-6M285.78,1512.0v-6M313.32,1512.0v-6M340.86,1512.0v-6M368.40,1512.0v-8M395.94,1512.0v-6M423.48,1512.0v-6M451.02,1512.0v-6M478.56,1512.0v-6M506.10,1512.0v-8M533.64,1512.0v-6M561.18,1512.0v-6M588.72,1512.0v-6M616.26,1512.0v-6M643.80,1512.0v-8M671.34,1512.0v-6M698.88,1512.0v-6M726.42,1512.0v-6M753.96,1512.0v-6M781.50,1512.0v-8" stroke="#8c8c8c" stroke-width="1.8" fill="none"/>
<path d="M93.0,820.5 V1512.0 H781.5" fill="none" stroke="#8c8c8c" stroke-width="2"/>
<text x="68.5" y="1520.7" text-anchor="end" font-size="23.0" textLength="14.1" lengthAdjust="spacingAndGlyphs">0</text>
<text x="68.5" y="1434.4" text-anchor="end" font-size="23.0" textLength="35.2" lengthAdjust="spacingAndGlyphs">0.2</text>
<text x="68.5" y="1348.1" text-anchor="end" font-size="23.0" textLength="35.2" lengthAdjust="spacingAndGlyphs">0.4</text>
<text x="68.5" y="1261.8" text-anchor="end" font-size="23.0" textLength="35.2" lengthAdjust="spacingAndGlyphs">0.6</text>
<text x="68.5" y="1175.5" text-anchor="end" font-size="23.0" textLength="35.2" lengthAdjust="spacingAndGlyphs">0.8</text>
<text x="68.5" y="1089.1" text-anchor="end" font-size="23.0" textLength="14.1" lengthAdjust="spacingAndGlyphs">1</text>
<text x="68.5" y="1002.8" text-anchor="end" font-size="23.0" textLength="35.2" lengthAdjust="spacingAndGlyphs">1.2</text>
<text x="68.5" y="916.5" text-anchor="end" font-size="23.0" textLength="35.2" lengthAdjust="spacingAndGlyphs">1.4</text>
<text x="68.5" y="830.2" text-anchor="end" font-size="23.0" textLength="35.2" lengthAdjust="spacingAndGlyphs">1.6</text>
<text x="93.0" y="1554.6" text-anchor="middle" font-size="23.0" textLength="14.1" lengthAdjust="spacingAndGlyphs">0</text>
<text x="231.3" y="1554.6" text-anchor="middle" font-size="23.0" textLength="28.1" lengthAdjust="spacingAndGlyphs">10</text>
<text x="369.0" y="1554.6" text-anchor="middle" font-size="23.0" textLength="28.1" lengthAdjust="spacingAndGlyphs">20</text>
<text x="506.7" y="1554.6" text-anchor="middle" font-size="23.0" textLength="28.1" lengthAdjust="spacingAndGlyphs">30</text>
<text x="644.4" y="1554.6" text-anchor="middle" font-size="23.0" textLength="28.1" lengthAdjust="spacingAndGlyphs">40</text>
<text x="782.1" y="1554.6" text-anchor="middle" font-size="23.0" textLength="28.1" lengthAdjust="spacingAndGlyphs">50</text>
<text x="370.8" y="1593" font-size="21.5" font-weight="bold" textLength="131.5" lengthAdjust="spacingAndGlyphs">Depth (mm)</text>
<text transform="translate(20.5,1256.5) rotate(-90)" font-size="22.5" font-weight="bold" textLength="178" lengthAdjust="spacingAndGlyphs">Counts (relative)</text>
<path d="M93.1,1294.6 C94.9,1294.1 100.5,1293.9 104.2,1291.4 C107.9,1288.9 112.1,1284.2 115.2,1279.6 C118.3,1275.0 120.9,1267.4 123.1,1263.9 C125.3,1260.4 126.5,1261.3 128.6,1258.4 C130.7,1255.5 133.7,1249.1 135.7,1246.6 C137.7,1244.1 138.7,1245.6 140.4,1243.4 C142.1,1241.2 144.1,1235.4 145.9,1233.2 C147.7,1231.0 149.2,1231.7 151.4,1230.0 C153.6,1228.3 156.9,1224.6 159.3,1222.9 C161.7,1221.2 163.0,1221.5 165.6,1219.8 C168.2,1218.1 172.1,1215.2 175.0,1212.7 C177.9,1210.2 180.8,1206.5 182.9,1204.8 C185.0,1203.1 185.8,1203.8 187.6,1202.5 C189.4,1201.2 191.5,1199.0 193.9,1197.0 C196.3,1195.0 198.7,1192.7 201.8,1190.7 C205.0,1188.7 209.4,1187.4 212.8,1185.2 C216.2,1183.0 219.8,1179.8 222.2,1177.3 C224.6,1174.8 224.9,1172.6 227.0,1170.2 C229.1,1167.8 232.5,1165.7 234.8,1163.1 C237.2,1160.5 239.2,1156.3 241.1,1154.5 C242.9,1152.7 242.8,1152.4 245.9,1152.1 C249.1,1151.8 256.9,1153.6 260.0,1152.9 C263.1,1152.2 262.6,1149.8 264.7,1148.2 C266.8,1146.6 270.5,1145.4 272.6,1143.4 C274.7,1141.4 275.2,1138.5 277.3,1136.4 C279.4,1134.3 282.3,1132.4 285.2,1130.8 C288.1,1129.2 291.5,1127.5 294.7,1126.9 C297.9,1126.3 301.0,1126.5 304.1,1127.4 C307.2,1128.3 311.0,1130.9 313.6,1132.4 C316.2,1133.9 317.5,1135.4 319.8,1136.4 C322.1,1137.5 325.1,1138.8 327.7,1138.7 C330.3,1138.6 333.0,1137.4 335.6,1135.6 C338.2,1133.8 341.4,1130.5 343.5,1127.7 C345.6,1124.9 346.4,1121.5 348.2,1119.0 C350.0,1116.5 351.8,1114.5 354.5,1112.7 C357.2,1110.9 360.9,1109.3 364.4,1108.0 C367.9,1106.7 371.6,1106.1 375.5,1104.9 C379.4,1103.7 383.9,1102.6 388.1,1100.9 C392.3,1099.2 397.0,1097.1 400.7,1094.6 C404.4,1092.1 406.7,1088.5 410.1,1086.0 C413.5,1083.5 418.0,1080.6 421.1,1079.7 C424.2,1078.8 426.1,1079.5 429.0,1080.5 C431.9,1081.5 435.2,1084.2 438.4,1086.0 C441.5,1087.8 445.0,1089.0 447.9,1091.5 C450.8,1094.0 452.9,1097.5 455.8,1100.9 C458.7,1104.3 462.1,1109.0 465.2,1112.0 C468.3,1115.0 471.5,1117.6 474.6,1119.0 C477.8,1120.4 481.0,1121.0 484.1,1120.6 C487.2,1120.2 489.8,1118.0 493.5,1116.7 C497.2,1115.4 503.0,1113.4 506.1,1112.7 C509.2,1112.0 509.8,1113.4 512.4,1112.7 C515.0,1112.0 518.8,1108.7 521.9,1108.8 C525.0,1108.9 528.7,1110.6 531.3,1113.5 C533.9,1116.4 535.8,1123.3 537.6,1126.1 C539.4,1128.9 540.2,1127.2 542.3,1130.1 C544.4,1133.0 547.1,1140.0 550.2,1143.4 C553.4,1146.8 557.5,1148.7 561.2,1150.5 C564.9,1152.3 569.4,1152.8 572.3,1154.5 C575.2,1156.2 576.1,1157.1 578.5,1160.8 C580.9,1164.5 584.3,1173.1 586.4,1176.5 C588.5,1179.9 589.0,1178.2 591.1,1181.2 C593.2,1184.2 596.4,1191.8 599.0,1194.6 C601.6,1197.4 604.3,1196.8 606.9,1197.8 C609.5,1198.8 612.3,1199.4 614.8,1200.9 C617.3,1202.4 618.7,1203.0 621.9,1206.8 C625.1,1210.6 630.5,1219.9 633.8,1223.7 C637.1,1227.5 639.4,1227.5 641.7,1229.7 C644.0,1231.9 645.7,1234.7 647.7,1236.7 C649.7,1238.7 651.4,1238.8 653.7,1241.6 C656.0,1244.4 658.3,1247.6 661.6,1253.6 C664.9,1259.6 670.3,1269.8 673.6,1277.4 C676.9,1285.0 678.5,1291.7 681.5,1299.3 C684.5,1306.9 688.5,1316.8 691.5,1323.1 C694.5,1329.4 696.8,1331.1 699.4,1337.1 C702.0,1343.1 704.8,1351.3 707.4,1358.9 C710.0,1366.5 713.0,1377.2 715.3,1382.8 C717.6,1388.4 719.0,1388.1 721.3,1392.7 C723.6,1397.3 726.6,1405.6 729.2,1410.6 C731.9,1415.6 734.9,1418.5 737.2,1422.5 C739.5,1426.5 740.5,1430.5 743.1,1434.5 C745.8,1438.5 750.5,1443.9 753.1,1446.4 C755.8,1448.9 756.4,1447.6 759.0,1449.4 C761.6,1451.2 766.5,1454.5 769.0,1457.3 C771.5,1460.1 773.2,1464.8 774.0,1466.3" fill="none" stroke="#4a7ebb" stroke-width="5" stroke-linejoin="round" stroke-linecap="round"/>
<path d="M93.0,1437.0 C98.6,1436.5 117.8,1434.5 126.6,1433.7 C135.4,1432.9 139.1,1432.9 145.8,1432.4 C152.5,1431.9 159.3,1431.4 167.0,1430.8 C174.7,1430.2 184.0,1429.5 192.0,1428.9 C200.0,1428.3 207.3,1427.7 215.0,1427.0 C222.7,1426.3 230.2,1425.4 238.2,1424.7 C246.2,1424.0 255.5,1423.5 263.2,1422.8 C270.9,1422.1 276.9,1420.9 284.3,1420.3 C291.7,1419.7 299.4,1419.7 307.4,1418.9 C315.4,1418.2 324.4,1416.8 332.4,1415.8 C340.4,1414.8 347.8,1413.7 355.5,1412.6 C363.2,1411.5 371.2,1410.4 378.6,1409.3 C386.0,1408.2 392.0,1407.3 399.8,1406.2 C407.6,1405.1 417.2,1404.4 425.2,1402.8 C433.2,1401.2 440.6,1398.7 447.9,1396.8 C455.2,1394.9 461.5,1393.4 469.1,1391.5 C476.7,1389.6 485.6,1387.6 493.4,1385.4 C501.2,1383.2 508.8,1381.2 516.1,1378.6 C523.4,1375.9 530.3,1372.5 537.4,1369.5 C544.5,1366.5 551.8,1363.9 558.6,1360.4 C565.4,1356.9 572.0,1352.8 578.3,1348.3 C584.6,1343.8 591.0,1338.7 596.5,1333.1 C602.0,1327.5 607.1,1321.0 611.6,1314.9 C616.1,1308.8 620.2,1303.3 623.8,1296.7 C627.3,1290.1 630.4,1282.1 632.9,1275.5 C635.4,1268.9 637.0,1262.9 638.9,1257.3 C640.8,1251.7 642.4,1248.3 644.2,1242.1 C646.0,1235.8 648.2,1227.0 649.7,1219.8 C651.2,1212.6 652.2,1205.7 653.4,1199.1 C654.5,1192.5 655.6,1187.1 656.6,1180.3 C657.6,1173.5 658.1,1165.7 659.1,1158.2 C660.1,1150.7 661.4,1142.9 662.4,1135.3 C663.4,1127.7 664.3,1119.8 665.2,1112.4 C666.1,1105.0 667.1,1096.0 667.7,1091.1 C668.3,1086.2 667.9,1083.6 668.9,1082.9 C669.9,1082.2 672.6,1084.4 673.8,1087.0 C675.0,1089.6 675.2,1094.5 676.3,1098.5 C677.4,1102.5 679.3,1107.0 680.4,1110.7 C681.5,1114.4 682.3,1116.1 682.8,1120.6 C683.3,1125.1 683.2,1130.8 683.6,1137.7 C684.0,1144.7 684.4,1154.1 684.9,1162.3 C685.4,1170.5 686.5,1178.9 686.9,1186.8 C687.3,1194.7 687.1,1199.3 687.5,1209.8 C687.9,1220.3 688.7,1234.7 689.5,1249.6 C690.3,1264.5 691.4,1281.1 692.4,1299.3 C693.4,1317.5 694.4,1339.0 695.4,1358.9 C696.4,1378.8 697.4,1402.7 698.4,1418.6 C699.4,1434.5 699.9,1443.5 701.4,1454.4 C702.9,1465.3 705.8,1475.6 707.4,1484.2 C709.0,1492.8 710.2,1501.5 711.3,1506.0 C712.4,1510.5 713.4,1510.2 713.8,1511.0 L740.0,1511.0 L782.0,1511.0" fill="none" stroke="#c00000" stroke-width="5" stroke-linejoin="round" stroke-linecap="round" stroke-dasharray="10 13.5"/>
<path d="M403,904.3 H463" stroke="#c00000" stroke-width="5" stroke-linecap="round" stroke-dasharray="12 11.7"/>
<path d="M403.5,960.6 H467.5" stroke="#4a7ebb" stroke-width="5" stroke-linecap="round"/>
<text x="475.5" y="910.8" font-size="21" textLength="123" lengthAdjust="spacingAndGlyphs">Dose wo RS</text>
<text x="475.5" y="968.8" font-size="21" textLength="158" lengthAdjust="spacingAndGlyphs">Positorn wo RS</text>
<path d="M954.0,826.0 H1697.6 V1511.0" fill="none" stroke="#b9cde9" stroke-width="2.4"/>
<path d="M962.0,826.0 H1697.6 V1511.0" fill="none" stroke="#4f7fc0" stroke-width="2.7" stroke-linecap="round" stroke-dasharray="1.5 6.6"/>
<path d="M954.0,1493.88h6M954.0,1476.75h6M954.0,1459.62h6M954.0,1442.50h6M954.0,1425.38h8M954.0,1408.25h6M954.0,1391.12h6M954.0,1374.00h6M954.0,1356.88h6M954.0,1339.75h8M954.0,1322.62h6M954.0,1305.50h6M954.0,1288.38h6M954.0,1271.25h6M954.0,1254.12h8M954.0,1237.00h6M954.0,1219.88h6M954.0,1202.75h6M954.0,1185.62h6M954.0,1168.50h8M954.0,1151.38h6M954.0,1134.25h6M954.0,1117.12h6M954.0,1100.00h6M954.0,1082.88h8M954.0,1065.75h6M954.0,1048.62h6M954.0,1031.50h6M954.0,1014.38h6M954.0,997.25h8M954.0,980.12h6M954.0,963.00h6M954.0,945.88h6M954.0,928.75h6M954.0,911.62h8M954.0,894.50h6M954.0,877.38h6M954.0,860.25h6M954.0,843.12h6M954.0,826.00h8M983.74,1511.0v-6M1013.49,1511.0v-6M1043.23,1511.0v-6M1072.98,1511.0v-6M1102.72,1511.0v-8M1132.46,1511.0v-6M1162.21,1511.0v-6M1191.95,1511.0v-6M1221.70,1511.0v-6M1251.44,1511.0v-8M1281.18,1511.0v-6M1310.93,1511.0v-6M1340.67,1511.0v-6M1370.42,1511.0v-6M1400.16,1511.0v-8M1429.90,1511.0v-6M1459.65,1511.0v-6M1489.39,1511.0v-6M1519.14,1511.0v-6M1548.88,1511.0v-8M1578.62,1511.0v-6M1608.37,1511.0v-6M1638.11,1511.0v-6M1667.86,1511.0v-6M1697.60,1511.0v-8" stroke="#8c8c8c" stroke-width="1.8" fill="none"/>
<path d="M954.0,825.0 V1511.0 H1697.6" fill="none" stroke="#8c8c8c" stroke-width="2"/>
<text x="929.5" y="1519.7" text-anchor="end" font-size="23.5" textLength="14.4" lengthAdjust="spacingAndGlyphs">0</text>
<text x="929.5" y="1434.1" text-anchor="end" font-size="23.5" textLength="35.9" lengthAdjust="spacingAndGlyphs">0.2</text>
<text x="929.5" y="1348.5" text-anchor="end" font-size="23.5" textLength="35.9" lengthAdjust="spacingAndGlyphs">0.4</text>
<text x="929.5" y="1262.8" text-anchor="end" font-size="23.5" textLength="35.9" lengthAdjust="spacingAndGlyphs">0.6</text>
<text x="929.5" y="1177.2" text-anchor="end" font-size="23.5" textLength="35.9" lengthAdjust="spacingAndGlyphs">0.8</text>
<text x="929.5" y="1091.6" text-anchor="end" font-size="23.5" textLength="14.4" lengthAdjust="spacingAndGlyphs">1</text>
<text x="929.5" y="1005.9" text-anchor="end" font-size="23.5" textLength="35.9" lengthAdjust="spacingAndGlyphs">1.2</text>
<text x="929.5" y="920.3" text-anchor="end" font-size="23.5" textLength="35.9" lengthAdjust="spacingAndGlyphs">1.4</text>
<text x="929.5" y="834.7" text-anchor="end" font-size="23.5" textLength="35.9" lengthAdjust="spacingAndGlyphs">1.6</text>
<text x="954.0" y="1554.5" text-anchor="middle" font-size="23.5" textLength="14.4" lengthAdjust="spacingAndGlyphs">0</text>
<text x="1103.3" y="1554.5" text-anchor="middle" font-size="23.5" textLength="28.7" lengthAdjust="spacingAndGlyphs">10</text>
<text x="1252.0" y="1554.5" text-anchor="middle" font-size="23.5" textLength="28.7" lengthAdjust="spacingAndGlyphs">20</text>
<text x="1400.8" y="1554.5" text-anchor="middle" font-size="23.5" textLength="28.7" lengthAdjust="spacingAndGlyphs">30</text>
<text x="1549.5" y="1554.5" text-anchor="middle" font-size="23.5" textLength="28.7" lengthAdjust="spacingAndGlyphs">40</text>
<text x="1698.2" y="1554.5" text-anchor="middle" font-size="23.5" textLength="28.7" lengthAdjust="spacingAndGlyphs">50</text>
<text x="1256" y="1594.8" font-size="22" font-weight="bold" textLength="136" lengthAdjust="spacingAndGlyphs">Depth (mm)</text>
<text transform="translate(878.5,1250) rotate(-90)" font-size="22" font-weight="bold" textLength="174.5" lengthAdjust="spacingAndGlyphs">Counts (relative)</text>
<path d="M954.1,1295.1 C954.8,1291.3 956.7,1279.5 958.2,1272.2 C959.7,1264.9 961.5,1257.2 963.1,1251.0 C964.7,1244.8 966.1,1240.4 968.0,1234.7 C969.9,1229.0 972.3,1222.7 974.5,1216.7 C976.7,1210.7 978.8,1203.7 981.0,1198.8 C983.2,1193.9 984.9,1191.6 987.6,1187.3 C990.3,1183.0 994.6,1177.3 997.3,1172.7 C1000.0,1168.1 1001.4,1163.5 1003.9,1159.6 C1006.4,1155.6 1009.5,1151.3 1012.0,1149.0 C1014.5,1146.7 1016.1,1147.2 1018.6,1145.7 C1021.1,1144.2 1023.4,1141.0 1026.7,1140.0 C1030.0,1139.0 1035.2,1140.4 1038.2,1140.0 C1041.2,1139.6 1042.0,1139.0 1044.7,1137.6 C1047.4,1136.2 1050.2,1133.7 1054.5,1131.8 C1058.8,1129.9 1066.5,1126.8 1070.8,1126.1 C1075.1,1125.4 1077.6,1127.7 1080.6,1127.8 C1083.6,1127.9 1086.3,1127.7 1088.8,1126.9 C1091.2,1126.1 1091.5,1124.2 1095.3,1122.9 C1099.1,1121.6 1107.0,1119.1 1111.6,1118.8 C1116.2,1118.5 1119.5,1120.8 1123.1,1121.2 C1126.6,1121.6 1129.9,1122.0 1132.9,1121.2 C1135.9,1120.4 1137.5,1118.2 1141.0,1116.3 C1144.5,1114.4 1150.6,1111.3 1154.1,1109.8 C1157.6,1108.3 1158.9,1107.7 1162.2,1107.3 C1165.5,1106.9 1170.4,1108.1 1173.7,1107.3 C1177.0,1106.5 1178.8,1104.0 1181.8,1102.4 C1184.8,1100.8 1188.0,1098.4 1191.6,1097.6 C1195.1,1096.8 1199.8,1096.9 1203.1,1097.6 C1206.4,1098.3 1208.2,1100.5 1211.2,1101.6 C1214.2,1102.7 1218.2,1104.1 1221.0,1104.1 C1223.8,1104.1 1225.7,1102.7 1228.2,1101.6 C1230.8,1100.5 1232.8,1098.3 1236.3,1097.6 C1239.8,1096.9 1245.9,1097.2 1249.4,1097.6 C1253.0,1098.0 1254.8,1099.6 1257.6,1100.0 C1260.4,1100.4 1263.5,1100.8 1266.5,1100.0 C1269.5,1099.2 1271.5,1096.6 1275.5,1095.1 C1279.5,1093.6 1286.4,1091.5 1290.2,1091.0 C1294.0,1090.5 1295.1,1091.0 1298.4,1091.8 C1301.7,1092.6 1305.5,1096.3 1309.8,1095.9 C1314.1,1095.5 1319.6,1090.5 1324.5,1089.4 C1329.4,1088.3 1335.1,1088.5 1339.2,1089.4 C1343.3,1090.4 1346.3,1094.0 1349.0,1095.1 C1351.7,1096.2 1352.8,1096.2 1355.5,1095.9 C1358.2,1095.6 1361.8,1093.9 1365.3,1093.5 C1368.8,1093.1 1373.4,1093.0 1376.7,1093.5 C1380.0,1094.0 1382.2,1094.8 1384.9,1096.7 C1387.6,1098.6 1390.4,1103.0 1393.1,1104.9 C1395.8,1106.8 1398.5,1107.7 1401.2,1108.2 C1403.9,1108.8 1406.4,1107.5 1409.4,1108.2 C1412.4,1108.9 1415.9,1110.4 1419.2,1112.2 C1422.5,1114.0 1426.3,1115.8 1429.0,1118.8 C1431.7,1121.8 1432.2,1126.7 1435.5,1130.2 C1438.8,1133.7 1445.3,1137.3 1448.6,1140.0 C1451.9,1142.7 1452.6,1143.5 1455.1,1146.5 C1457.5,1149.5 1460.3,1153.6 1463.3,1158.0 C1466.3,1162.4 1470.9,1168.4 1473.1,1172.7 C1475.3,1177.0 1474.9,1180.0 1476.3,1184.1 C1477.7,1188.2 1479.3,1192.8 1481.2,1197.1 C1483.1,1201.4 1485.3,1206.3 1487.8,1210.2 C1490.3,1214.1 1493.9,1216.0 1496.3,1220.5 C1498.7,1225.0 1498.8,1229.5 1501.9,1237.3 C1505.0,1245.1 1511.5,1258.8 1514.9,1267.2 C1518.3,1275.6 1520.2,1280.9 1522.4,1287.7 C1524.6,1294.5 1525.5,1301.1 1528.0,1308.2 C1530.5,1315.3 1534.2,1322.8 1537.3,1330.6 C1540.4,1338.4 1543.2,1346.8 1546.6,1354.9 C1550.0,1363.0 1554.9,1373.1 1557.8,1379.1 C1560.7,1385.1 1561.9,1385.7 1564.2,1390.8 C1566.5,1395.9 1567.7,1400.8 1571.7,1409.5 C1575.8,1418.2 1582.6,1433.2 1588.5,1443.2 C1594.4,1453.2 1601.9,1462.9 1607.2,1469.4 C1612.5,1476.0 1615.6,1478.5 1620.3,1482.5 C1625.0,1486.5 1630.6,1490.6 1635.3,1493.7 C1640.0,1496.8 1643.4,1499.2 1648.4,1501.2 C1653.4,1503.2 1657.1,1505.0 1665.2,1505.9 C1673.3,1506.8 1691.7,1506.7 1697.0,1506.8" fill="none" stroke="#4a7ebb" stroke-width="5" stroke-linejoin="round" stroke-linecap="round"/>
<path d="M953.6,1436.5 C955.7,1436.0 961.2,1434.5 966.3,1433.8 C971.4,1433.0 977.4,1432.3 984.3,1432.0 C991.2,1431.7 1000.0,1432.5 1007.8,1432.0 C1015.6,1431.5 1023.1,1429.9 1031.3,1429.2 C1039.5,1428.5 1048.5,1428.5 1056.7,1428.0 C1064.9,1427.5 1072.1,1427.2 1080.2,1426.5 C1088.3,1425.8 1097.4,1424.5 1105.5,1423.8 C1113.6,1423.1 1121.2,1423.0 1129.0,1422.6 C1136.8,1422.1 1144.4,1421.9 1152.5,1421.1 C1160.6,1420.3 1169.7,1418.8 1177.8,1417.9 C1185.9,1417.1 1193.2,1416.8 1201.3,1416.0 C1209.4,1415.2 1218.5,1414.0 1226.6,1413.0 C1234.7,1412.0 1242.0,1411.0 1250.0,1409.9 C1258.0,1408.8 1266.2,1407.5 1274.3,1406.2 C1282.4,1405.0 1290.4,1403.5 1298.5,1402.4 C1306.6,1401.3 1315.0,1400.8 1322.8,1399.6 C1330.6,1398.4 1337.0,1396.5 1345.1,1395.0 C1353.2,1393.5 1362.9,1392.2 1371.3,1390.3 C1379.7,1388.4 1387.7,1386.0 1395.5,1383.8 C1403.3,1381.6 1410.8,1379.7 1417.9,1377.2 C1425.1,1374.7 1431.2,1371.9 1438.4,1368.8 C1445.6,1365.7 1454.0,1362.2 1460.8,1358.6 C1467.6,1355.0 1473.3,1351.8 1479.5,1347.4 C1485.7,1343.1 1492.2,1337.5 1498.1,1332.5 C1504.0,1327.5 1510.2,1322.2 1514.9,1317.5 C1519.6,1312.8 1523.0,1309.5 1526.1,1304.5 C1529.2,1299.5 1531.1,1293.3 1533.6,1287.7 C1536.1,1282.1 1538.5,1277.1 1541.0,1270.9 C1543.5,1264.7 1546.3,1257.2 1548.5,1250.4 C1550.7,1243.6 1552.2,1237.1 1554.1,1229.9 C1556.0,1222.8 1558.3,1213.5 1559.7,1207.5 C1561.1,1201.5 1561.5,1200.2 1562.5,1194.2 C1563.5,1188.2 1564.9,1179.2 1566.0,1171.4 C1567.1,1163.7 1568.0,1155.7 1569.0,1147.7 C1570.0,1139.7 1571.1,1131.4 1572.1,1123.2 C1573.1,1115.0 1574.2,1105.3 1575.2,1098.6 C1576.2,1091.9 1576.7,1083.8 1577.8,1082.8 C1578.9,1081.8 1580.6,1089.1 1581.8,1092.5 C1583.0,1095.9 1583.5,1099.3 1584.8,1103.0 C1586.1,1106.7 1588.3,1110.5 1589.6,1114.4 C1590.8,1118.4 1591.7,1122.6 1592.3,1126.7 C1592.9,1130.8 1592.9,1134.8 1593.2,1139.0 C1593.5,1143.2 1593.7,1146.0 1594.0,1152.1 C1594.3,1158.2 1594.5,1167.8 1594.9,1175.8 C1595.4,1183.8 1596.2,1187.0 1596.7,1200.4 C1597.2,1213.8 1597.1,1237.4 1597.9,1256.1 C1598.7,1274.8 1600.5,1293.6 1601.6,1312.3 C1602.7,1331.0 1603.5,1349.7 1604.4,1368.4 C1605.3,1387.1 1606.1,1408.9 1607.2,1424.5 C1608.3,1440.1 1609.1,1450.1 1611.0,1461.9 C1612.9,1473.8 1616.5,1487.4 1618.4,1495.6 C1620.3,1503.8 1621.9,1508.4 1622.6,1511.0 L1650.0,1511.0 L1697.6,1511.0" fill="none" stroke="#c00000" stroke-width="5" stroke-linejoin="round" stroke-linecap="round" stroke-dasharray="10 13.5"/>
<path d="M1294.5,918 H1355" stroke="#c00000" stroke-width="5" stroke-linecap="round" stroke-dasharray="12 11.7"/>
<path d="M1294.5,972.1 H1362.5" stroke="#4a7ebb" stroke-width="5" stroke-linecap="round"/>
<text x="1370.5" y="926.4" font-size="22" textLength="127" lengthAdjust="spacingAndGlyphs">Dose wo RS</text>
<text x="1370.5" y="981.4" font-size="22" textLength="210.5" lengthAdjust="spacingAndGlyphs">PET positron wo RS</text>
</svg></body></html>
